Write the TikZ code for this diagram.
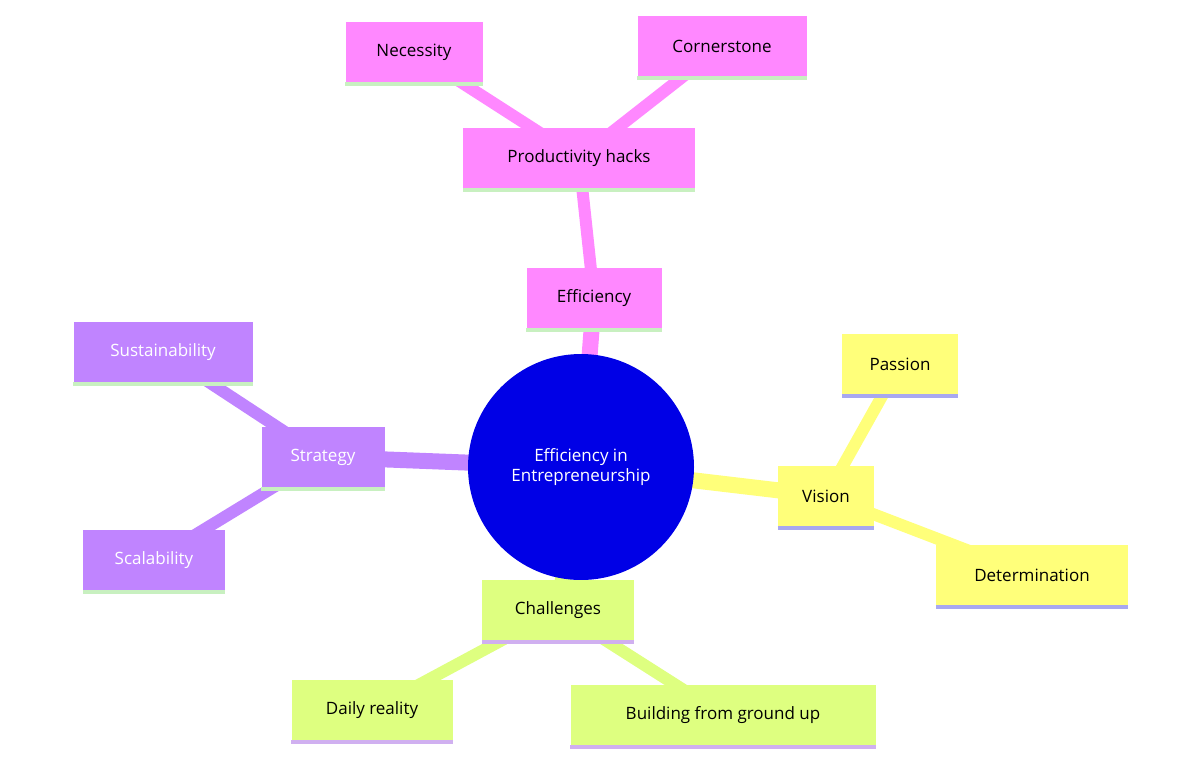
\documentclass[tikz,border=0pt]{standalone}
\usepackage{fontspec}
\setmainfont{Open Sans}
\usetikzlibrary{backgrounds}
\begin{document}
\begin{tikzpicture}[x=1pt,y=-1pt,
  every node/.style={font=\fontsize{17}{20}\selectfont},
  box/.style={minimum height=60pt,inner sep=0pt,draw=none},
  thickA/.style={line width=16pt},
  thickB/.style={line width=12pt}]
\definecolor{pk}{HTML}{FF88FF}
\definecolor{pu}{HTML}{C084FF}
\definecolor{ye}{HTML}{FFFF7A}
\definecolor{gr}{HTML}{DEFF80}
\definecolor{ulg}{HTML}{C8F0C0}
\definecolor{ulb}{HTML}{A8A8F0}
\definecolor{ulp}{HTML}{D0B0F0}
\definecolor{cb}{HTML}{0000E6}
\useasboundingbox (0,0) rectangle (1200,761);
\node[circle,fill=cb,minimum size=226pt,text=white,align=center,inner sep=0pt] (c) at (581,467) {Efficiency in\\Entrepreneurship};
\foreach \n/\x/\y/\w/\f/\u/\tc/\t in {
 eff/594/298/135/pk/ulg/black/Efficiency,
 ph/579/158/232/pk/ulg/black/Productivity hacks,
 nec/414/52/137/pk/ulg/black/Necessity,
 cor/722/46/169/pk/ulg/black/Cornerstone,
 str/323/457/123/pu/ulg/white/Strategy,
 sus/163/352/179/pu/ulg/white/Sustainability,
 sca/154/560/142/pu/ulg/white/Scalability,
 vis/826/496/96/ye/ulb/black/Vision,
 pas/900/364/116/ye/ulb/black/Passion,
 det/1032/575/192/ye/ulb/black/Determination,
 cha/558/610/152/gr/ulp/black/Challenges,
 dai/372/710/161/gr/ulp/black/Daily reality,
 bui/723/715/305/gr/ulp/black/Building from ground up}
 {\node[box,minimum width=\w pt,fill=\f,text=\tc] (\n) at (\x,\y) {\t};
  \fill[\u] (\n.south west) rectangle ([yshift=-4pt]\n.south east);}
\begin{scope}[on background layer]
\draw[thickA,pk] (c.center) -- (eff.center);
\draw[thickA,pu] (c.center) -- (str.center);
\draw[thickA,ye] (c.center) -- (vis.center);
\draw[thickA,gr] (c.center) -- (cha.center);
\draw[thickB,pk] (eff.center) -- (ph.center);
\draw[thickB,pk] (ph.center) -- (nec.center);
\draw[thickB,pk] (ph.center) -- (cor.center);
\draw[thickB,pu] (str.center) -- (sus.center);
\draw[thickB,pu] (str.center) -- (sca.center);
\draw[thickB,ye] (vis.center) -- (pas.center);
\draw[thickB,ye] (vis.center) -- (det.center);
\draw[thickB,gr] (cha.center) -- (dai.center);
\draw[thickB,gr] (cha.center) -- (bui.center);
\end{scope}
\end{tikzpicture}
\end{document}
